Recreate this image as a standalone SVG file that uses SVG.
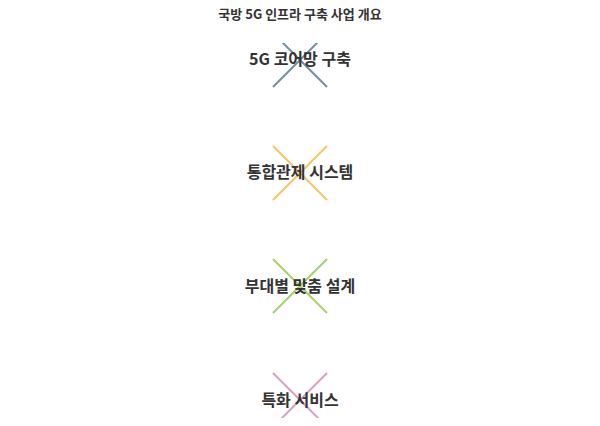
<svg xmlns="http://www.w3.org/2000/svg" width="600" height="426" viewBox="0 0 600 426">
<defs>
<style>
.title{font-family:"Noto Sans CJK KR","Noto Sans",sans-serif;font-size:13px;font-weight:700;fill:#333;text-anchor:middle}
.lbl{font-family:"Noto Sans CJK KR","Noto Sans",sans-serif;font-size:16px;font-weight:700;fill:#333;text-anchor:middle;dominant-baseline:central}
.x{stroke-width:2;fill:none;stroke-linecap:butt}
</style>
<clipPath id="clip"><rect x="0" y="43" width="600" height="375"/></clipPath>
</defs>
<rect width="600" height="426" fill="#fff"/>
<text class="title" x="300" y="19">국방 5G 인프라 구축 사업 개요</text>
<g id="connectors"/>
<g clip-path="url(#clip)">
<g id="node1">
<path class="x" stroke="#6e8fa3" d="M273 33L327 87M327 33L273 87"/>
<text class="lbl" x="300" y="58">5G 코어망 구축</text>
</g>
<g id="node2">
<path class="x" stroke="#f9c466" d="M273 146L327 200M327 146L273 200"/>
<text class="lbl" x="300" y="171">통합관제 시스템</text>
</g>
<g id="node3">
<path class="x" stroke="#a8d06c" d="M273 259L327 313M327 259L273 313"/>
<text class="lbl" x="300" y="285">부대별 맞춤 설계</text>
</g>
<g id="node4">
<path class="x" stroke="#db9fc3" d="M273 373L327 427M327 373L273 427"/>
<text class="lbl" x="300" y="399">특화 서비스</text>
</g>
</g>
</svg>
